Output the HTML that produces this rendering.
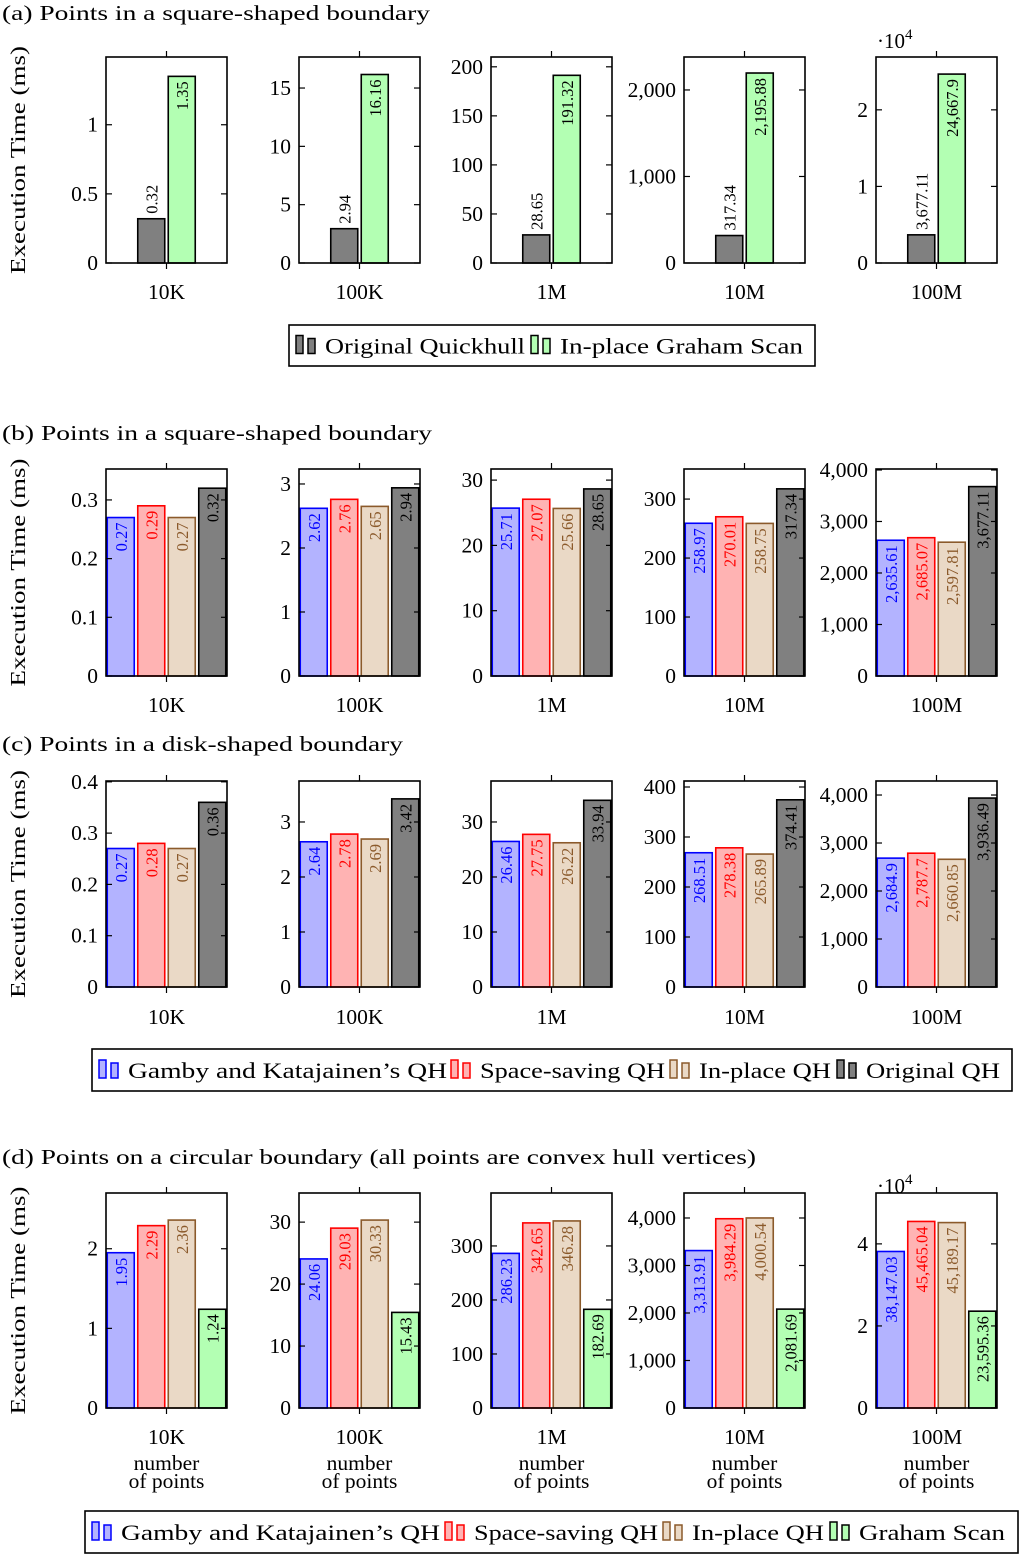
<!DOCTYPE html>
<html><head><meta charset="utf-8"><style>
body{margin:0;background:#fff}
svg{display:block;font-family:"Liberation Serif",serif}
</style></head><body>
<svg id="chart" width="1021" height="1554" viewBox="0 0 1021 1554" xmlns="http://www.w3.org/2000/svg"></svg>
<script>
const categories = ["10K","100K","1M","10M","100M"];
// row a: Original Quickhull, In-place Graham Scan
const aOrig = [0.32, 2.94, 28.65, 317.34, 3677.11];
const aGraham = [1.35, 16.16, 191.32, 2195.88, 24667.9];
// row b: square
const bGK = [0.27, 2.62, 25.71, 258.97, 2635.61];
const bSS = [0.29, 2.76, 27.07, 270.01, 2685.07];
const bIP = [0.27, 2.65, 25.66, 258.75, 2597.81];
const bOQ = [0.32, 2.94, 28.65, 317.34, 3677.11];
// row c: disk
const cGK = [0.27, 2.64, 26.46, 268.51, 2684.9];
const cSS = [0.28, 2.78, 27.75, 278.38, 2787.7];
const cIP = [0.27, 2.69, 26.22, 265.89, 2660.85];
const cOQ = [0.36, 3.42, 33.94, 374.41, 3936.49];
// row d: circle
const dGK = [1.95, 24.06, 286.23, 3313.91, 38147.03];
const dSS = [2.29, 29.03, 342.65, 3984.29, 45465.04];
const dIP = [2.36, 30.33, 346.28, 4000.54, 45189.17];
const dGS = [1.24, 15.43, 182.69, 2081.69, 23595.36];
// y axis maxima and ticks per panel
const aMax = [1.49, 17.66, 210, 2381, 26900];
const aTicks = [[0,0.5,1],[0,5,10,15],[0,50,100,150,200],[0,1000,2000],[0,10000,20000]];
const bMax = [0.3527, 3.234, 31.7, 351, 4019];
const bTicks = [[0,0.1,0.2,0.3],[0,1,2,3],[0,10,20,30],[0,100,200,300],[0,1000,2000,3000,4000]];
const cMax = [0.4016, 3.745, 37.45, 412, 4292];
const cTicks = [[0,0.1,0.2,0.3,0.4],[0,1,2,3],[0,10,20,30],[0,100,200,300,400],[0,1000,2000,3000,4000]];
const dMax = [2.70, 34.7, 398, 4526, 52400];
const dTicks = [[0,1,2],[0,10,20,30],[0,100,200,300],[0,1000,2000,3000,4000],[0,20000,40000]];

const NS="http://www.w3.org/2000/svg";
const svg=document.getElementById('chart');
function el(tag,attrs,parent){const e=document.createElementNS(NS,tag);for(const k in attrs)e.setAttribute(k,attrs[k]);(parent||svg).appendChild(e);return e;}
function txt(s,attrs,parent){const e=el('text',attrs,parent);e.textContent=s;return e;}
const lefts=[106,299,491,684,876], W=121;
const STY={
 blue:{fill:"#b3b3ff",stroke:"#0000ff",lab:"#0000ff"},
 red:{fill:"#ffb3b3",stroke:"#ff0000",lab:"#ff0000"},
 tan:{fill:"#ead9c6",stroke:"#8b5a2b",lab:"#8b5a2b"},
 gray:{fill:"#808080",stroke:"#000",lab:"#000"},
 green:{fill:"#b3ffb3",stroke:"#000",lab:"#000"}
};
function fmt(v){return v.toLocaleString('en-US',{maximumFractionDigits:2});}
function fmtTick(v,sci){if(sci)v=v/1e4;return v.toLocaleString('en-US',{maximumFractionDigits:2});}

function row(rowName,top,bottom,series,maxes,ticks,labelAbove,sciIdx,xlabY,extra){
  const g=el('g',{});
  
  
  for(let i=0;i<5;i++){
    const L=lefts[i],cx=L+W/2,H=bottom-top,mx=maxes[i];
    const y=v=>bottom-v/mx*H;
    const pg=el('g',{},g);
    
    
    const n=series.length, step=30.5, bw=27;
    series.forEach((s,j)=>{
      const v=s.data[i], off=(j-(n-1)/2)*step, bx=cx+off-bw/2, by=y(v), st=STY[s.style];
      const r=el('rect',{x:bx,y:by,width:bw,height:bottom-by,fill:st.fill,stroke:st.stroke,'stroke-width':1.6},pg);
      
      
      const lab=fmt(v); const fs=16.5;
      let t;
      const estLen=lab.length*8.3;
      if(labelAbove && by-5-estLen>top){
        t=txt(lab,{x:0,y:0,'font-size':fs,fill:st.lab,'text-anchor':'start',transform:`translate(${cx+off+6},${by-5}) rotate(-90)`},pg);
      } else {
        t=txt(lab,{x:0,y:0,'font-size':fs,fill:st.lab,'text-anchor':'end',transform:`translate(${cx+off+6},${by+5}) rotate(-90)`},pg);
      }
      
      
    });
    const fr=el('rect',{x:L,y:top,width:W,height:bottom-top,fill:'none',stroke:'#000','stroke-width':1.6},pg);
    
    
    el('line',{x1:cx,y1:top,x2:cx,y2:top-6,stroke:'#000','stroke-width':1.2},pg);
    el('line',{x1:cx,y1:bottom,x2:cx,y2:bottom+6,stroke:'#000','stroke-width':1.2},pg);
    ticks[i].forEach(tv=>{
      const ty=y(tv);
      el('line',{x1:L,y1:ty,x2:L+6,y2:ty,stroke:'#000','stroke-width':1.2},pg);
      el('line',{x1:L+W,y1:ty,x2:L+W-6,y2:ty,stroke:'#000','stroke-width':1.2},pg);
      const tl=txt(fmtTick(tv,sciIdx&&i===4),{x:L-8,y:ty+7,'font-size':21.5,'text-anchor':'end'},pg);
      
      
    });
    const xl=txt(categories[i],{x:cx,y:xlabY,'font-size':21.5,'text-anchor':'middle'},pg);
    
    
    if(extra){
      const e1=txt('number',{x:cx,y:xlabY+26,'font-size':21.5,'text-anchor':'middle'},pg);
      
      
      const e2=txt('of points',{x:cx,y:xlabY+44,'font-size':21.5,'text-anchor':'middle'},pg);
      
      
    }
  }
  const yt=txt('Execution Time (ms)',{x:0,y:0,'font-size':21,'text-anchor':'middle',textLength:228,lengthAdjust:'spacingAndGlyphs',transform:`translate(25,${(top+bottom)/2}) rotate(-90)`},g);
  
  
}
function title(s,y,len){const t=txt(s,{x:2,y:y,'font-size':21,textLength:len,lengthAdjust:'spacingAndGlyphs'});}
function sci(x,y){const t=txt('',{x:x,y:y,'font-size':21});
  const a=el('tspan',{},t);a.textContent='·10';const b=el('tspan',{dy:-9,'font-size':15},t);b.textContent='4';}
function legend(name,x,y,w,h,items){
  const g=el('g',{});
  el('rect',{x:x,y:y,width:w,height:h,fill:'#fff',stroke:'#000','stroke-width':1.6},g);
  items.forEach(it=>{
    const st=STY[it.style], cx=it.x;
    const eg=el('g',{},g);
    el('rect',{x:cx,y:y+h/2-10,width:7,height:18,fill:st.fill,stroke:st.stroke,'stroke-width':1.5},eg);
    el('rect',{x:cx+12,y:y+h/2-7,width:7,height:15,fill:st.fill,stroke:st.stroke,'stroke-width':1.5},eg);
    txt(it.label,{x:cx+29,y:y+h/2+8,'font-size':22,textLength:it.len,lengthAdjust:'spacingAndGlyphs'},eg);
  });
}
title('(a) Points in a square-shaped boundary',20,428);
row('row-a',57,263,[{key:'original-qh',style:'gray',data:aOrig},{key:'graham-scan',style:'green',data:aGraham}],aMax,aTicks,true,true,299,false);
sci(877,48);
legend('legend-a',289,325,526,41,[{style:'gray',label:'Original Quickhull',x:296,len:200},{style:'green',label:'In-place Graham Scan',x:531,len:243}]);
title('(b) Points in a square-shaped boundary',440,430);
row('row-b',469,676,[{key:'gamby-katajainen',style:'blue',data:bGK},{key:'space-saving',style:'red',data:bSS},{key:'in-place',style:'tan',data:bIP},{key:'original-qh',style:'gray',data:bOQ}],bMax,bTicks,false,false,712,false);
title('(c) Points in a disk-shaped boundary',751,401);
row('row-c',781,987,[{key:'gamby-katajainen',style:'blue',data:cGK},{key:'space-saving',style:'red',data:cSS},{key:'in-place',style:'tan',data:cIP},{key:'original-qh',style:'gray',data:cOQ}],cMax,cTicks,false,false,1024,false);
legend('legend-c',92,1049,920,42,[{style:'blue',label:'Gamby and Katajainen’s QH',x:99,len:319},{style:'red',label:'Space-saving QH',x:451,len:185},{style:'tan',label:'In-place QH',x:670,len:132},{style:'gray',label:'Original QH',x:837,len:134}]);
title('(d) Points on a circular boundary (all points are convex hull vertices)',1164,754);
row('row-d',1193,1408,[{key:'gamby-katajainen',style:'blue',data:dGK},{key:'space-saving',style:'red',data:dSS},{key:'in-place',style:'tan',data:dIP},{key:'graham-scan',style:'green',data:dGS}],dMax,dTicks,false,true,1444,true);
sci(877,1193);
legend('legend-d',85,1511,933,42,[{style:'blue',label:'Gamby and Katajainen’s QH',x:92,len:319},{style:'red',label:'Space-saving QH',x:445,len:184},{style:'tan',label:'In-place QH',x:663,len:132},{style:'green',label:'Graham Scan',x:830,len:146}]);
</script>
</body></html>
